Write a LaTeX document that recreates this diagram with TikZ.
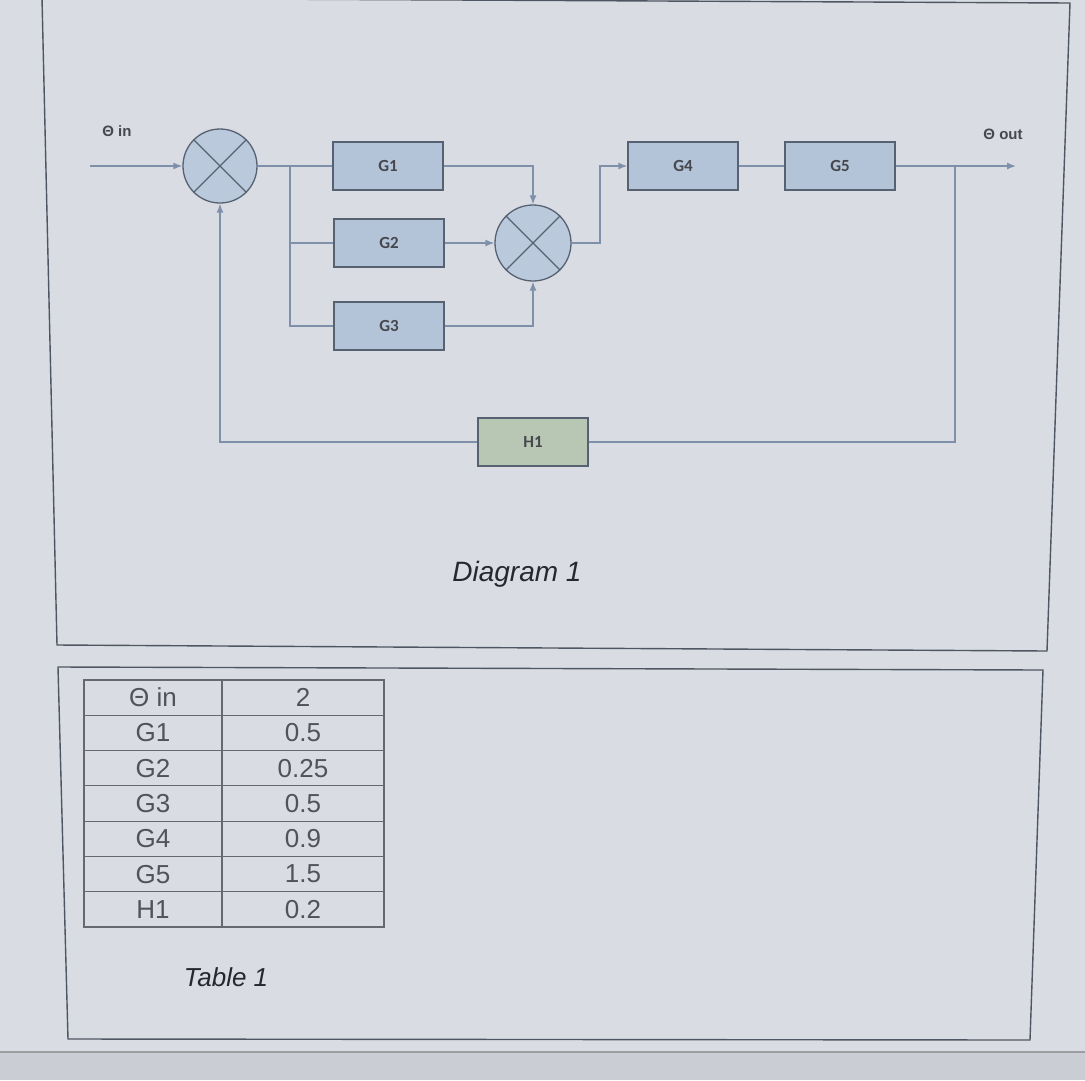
\documentclass[tikz,border=0pt]{standalone}
\usepackage{fontspec}
\setmainfont{Liberation Sans}
\newfontfamily\boxfont{Carlito}
\usetikzlibrary{arrows.meta,calc}
\definecolor{bg}{HTML}{D9DCE3}
\definecolor{bgdark}{HTML}{CACDD4}
\definecolor{panel}{HTML}{4F5663}
\definecolor{boxfill}{HTML}{B3C3D8}
\definecolor{sumfill}{HTML}{BACADC}
\definecolor{boxline}{HTML}{566172}
\definecolor{wire}{HTML}{7F90AA}
\definecolor{hfill}{HTML}{B8C6B4}
\definecolor{ink}{HTML}{25282E}
\tikzset{
  blk/.style={draw=boxline, line width=1.3pt, fill=boxfill, minimum width=110pt, minimum height=48pt, inner sep=0pt,
    font=\boxfont\bfseries\fontsize{17}{19}\selectfont, text=ink!85},
  hblk/.style={blk, fill=hfill},
  sumj/.style={draw=boxline, line width=1.3pt, fill=sumfill, circle, minimum size=74pt, inner sep=0pt},
  ln/.style={draw=wire, line width=1.3pt},
  arr/.style={ln, -{Latex[length=9pt,width=7pt]}},
  lab/.style={font=\bfseries\fontsize{15}{17}\selectfont, text=ink!85},
  captxt/.style={font=\itshape\fontsize{28}{32}\selectfont, text=ink},
  cell/.style={font=\fontsize{26}{30}\selectfont, text=ink!80, inner sep=0pt},
  panelb/.style={draw=panel, line width=1.4pt},
  grid/.style={draw=ink!70, line width=1.1pt}
}
\begin{document}
\begin{tikzpicture}[x=1pt,y=-1pt]
\useasboundingbox (0,0) rectangle (1085,1080);
\fill[bg] (0,0) rectangle (1085,1080);
\fill[bgdark] (0,1052) rectangle (1085,1080);
\draw[draw=ink!45, line width=1.2pt] (0,1052) -- (1085,1052);
% panels
\draw[panelb] (42,-2) -- (1070,3) -- (1047,651) -- (57,645) -- cycle;
\draw[panelb] (58,667) -- (1043,670) -- (1030,1040) -- (68,1039) -- cycle;

% diagram nodes
\node[sumj] (s1) at (220,166) {};
\draw[boxline, line width=1.3pt] (s1.45) -- (s1.225) (s1.135) -- (s1.-45);
\node[blk] (g1) at (388,166) {G1};
\node[blk] (g2) at (389,243) {G2};
\node[blk] (g3) at (389,326) {G3};
\node[sumj, minimum size=76pt] (s2) at (533,243) {};
\draw[boxline, line width=1.3pt] (s2.45) -- (s2.225) (s2.135) -- (s2.-45);
\node[blk] (g4) at (683,166) {G4};
\node[blk] (g5) at (840,166) {G5};
\node[hblk] (h1) at (533,442) {H1};

\node[lab] (lin) at (117,131) {Θ in};
\node[lab] (lout) at (1003,134) {Θ out};
\node[captxt] (dcap) at (517,574) {Diagram 1};

% connectors
\coordinate (inS) at (90,166);
\coordinate (br) at (290,166);
\coordinate (j2) at (600,243);
\coordinate (outE) at (1016,166);
\coordinate (tk) at (955,166);
\draw[arr] (inS) -- (s1.west);
\draw[ln] (s1.east) -- (br) -- (g1.west);
\draw[ln] (br) |- (g2.west);
\draw[ln] (br) |- (g3.west);
\draw[arr] (g1.east) -| (s2.north);
\draw[arr] (g2.east) -- (s2.west);
\draw[arr] (g3.east) -| (s2.south);
\draw[arr] (s2.east) -- (j2) |- (g4.west);
\draw[ln] (g4.east) -- (g5.west);
\draw[arr] (g5.east) -- (outE);
\draw[ln] (tk) |- (h1.east);
\draw[arr] (h1.west) -| (s1.south);

% table
\draw[grid] (84,680) rectangle (384,927);
\draw[grid] (222,680) -- (222,927);
\foreach \i in {1,...,6} {
  \draw[grid] (84,{680+35.286*\i}) -- (384,{680+35.286*\i});
}
\foreach \k/\v [count=\i] in {Θ in/2, G1/0.5, G2/0.25, G3/0.5, G4/0.9, G5/1.5, H1/0.2} {
  \node[cell] (k\i) at (153,{680+35.286*(\i-0.5)}) {\k};
  \node[cell] (v\i) at (303,{680+35.286*(\i-0.5)}) {\v};
}
\node[captxt, font=\itshape\fontsize{26}{30}\selectfont] (tcap) at (226,977) {Table 1};
\end{tikzpicture}
\end{document}
